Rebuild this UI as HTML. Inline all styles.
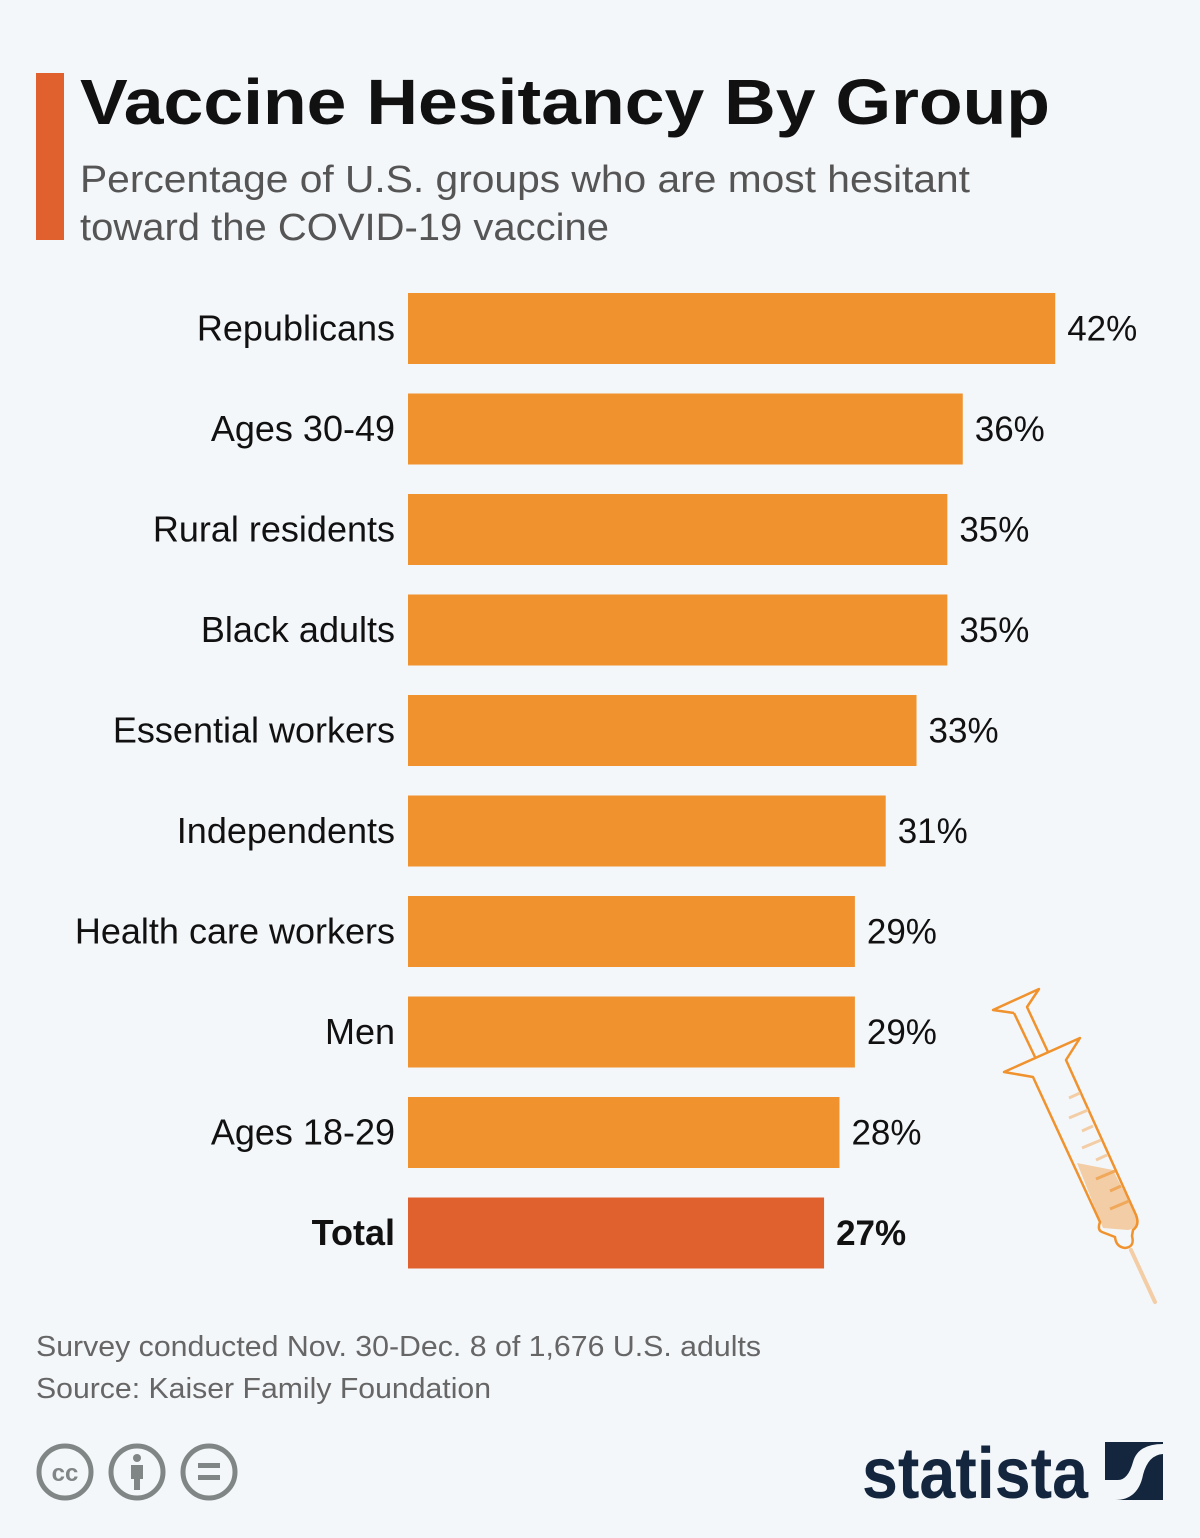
<!DOCTYPE html>
<html><head><meta charset="utf-8"><style>
body{margin:0;background:#f4f7fa;font-family:"Liberation Sans",sans-serif;}
#c{position:relative;width:1200px;height:1538px;overflow:hidden;background:#f4f7fa}
</style></head><body>
<div id="c">
<svg width="1200" height="1538" xmlns="http://www.w3.org/2000/svg" id="svg">
<rect x="36" y="73" width="28" height="167" fill="#e0612e"/>
<text x="80" y="124" font-size="64" font-weight="bold" fill="#111" textLength="970" lengthAdjust="spacingAndGlyphs">Vaccine Hesitancy By Group</text>
<text x="80" y="192" font-size="38" fill="#555" textLength="890" lengthAdjust="spacingAndGlyphs">Percentage of U.S. groups who are most hesitant</text>
<text x="80" y="240" font-size="38" fill="#555" textLength="529" lengthAdjust="spacingAndGlyphs">toward the COVID-19 vaccine</text>
<g id="bars"></g>
<g fill="none" stroke="#f0922d" stroke-width="2.5" stroke-linejoin="round">
<path d="M1077,1163 L1113,1170 L1136,1215 Q1140,1228 1128,1230 L1103,1228 Z" fill="#f3cda6" stroke="none"/>
<path d="M1014,1013 L993,1010 L1039,989 L1027,1007 L1048,1052"/>
<path d="M1014,1013 L1035,1057"/>
<path d="M1033,1077 L1004,1072 L1080,1038 L1066,1060 L1136,1215 Q1140,1225 1133,1230 L1132,1236 Q1135,1247 1125,1248 Q1116,1247 1115,1237 L1102,1232 Q1097,1230 1100,1222 Z"/>
<g stroke="#f3cda6" stroke-width="3">
<line x1="1069" y1="1098" x2="1080" y2="1093"/><line x1="1069" y1="1118" x2="1088" y2="1110"/>
<line x1="1082" y1="1131" x2="1093" y2="1126"/><line x1="1082" y1="1148" x2="1101" y2="1140"/>
<line x1="1096" y1="1160" x2="1107" y2="1155"/></g>
<g stroke="#f0a85a" stroke-width="3">
<line x1="1096" y1="1179" x2="1115" y2="1171"/><line x1="1110" y1="1191" x2="1121" y2="1186"/><line x1="1110" y1="1209" x2="1129" y2="1201"/></g>
<line x1="1131" y1="1250" x2="1155" y2="1302" stroke="#f3cda6" stroke-width="4" stroke-linecap="round"/>
</g>
<text x="36" y="1356" font-size="29" fill="#666" textLength="725" lengthAdjust="spacingAndGlyphs">Survey conducted Nov. 30-Dec. 8 of 1,676 U.S. adults</text>
<text x="36" y="1398" font-size="29" fill="#666" textLength="455" lengthAdjust="spacingAndGlyphs">Source: Kaiser Family Foundation</text>
<g stroke="#808585" stroke-width="5" fill="none">
<circle cx="65" cy="1472" r="26"/><circle cx="137" cy="1472" r="26"/><circle cx="209" cy="1472" r="26"/></g>
<text x="65" y="1481" font-size="24" font-weight="bold" fill="#808585" text-anchor="middle">cc</text>
<circle cx="137" cy="1458" r="4" fill="#808585"/>
<rect x="131" y="1465" width="12" height="14" fill="#808585"/><rect x="134" y="1478" width="6" height="12" fill="#808585"/>
<rect x="198" y="1463" width="22" height="5" fill="#808585"/><rect x="198" y="1475" width="22" height="5" fill="#808585"/>
<text x="862" y="1498" font-size="72" font-weight="bold" fill="#14263e" textLength="226" lengthAdjust="spacingAndGlyphs">statista</text>
<rect x="1105" y="1442" width="58" height="58" fill="#14263e"/>
<path d="M1105,1480 L1118,1480 Q1128,1480 1133,1462 Q1138,1444 1163,1444 L1163,1454 Q1148,1455 1143,1475 Q1138,1500 1115,1500 L1105,1500 Z" fill="#f4f7fa"/>
</svg>
</div>
<script>
const categories=["Republicans","Ages 30-49","Rural residents","Black adults","Essential workers","Independents","Health care workers","Men","Ages 18-29","Total"];
const values=[42,36,35,35,33,31,29,29,28,27];
const valueLabels=["42%","36%","35%","35%","33%","31%","29%","29%","28%","27%"];
const x0=408,pxPer=15.41,y0=293,step=100.5,bh=71;
const xs=v=>x0+v*pxPer, ys=i=>y0+i*step;
const g=document.getElementById('bars'),ns="http://www.w3.org/2000/svg";
categories.forEach((c,i)=>{
 const tot=c==="Total";
 const r=document.createElementNS(ns,'rect');
 r.setAttribute('x',x0);r.setAttribute('y',ys(i));r.setAttribute('width',xs(values[i])-x0);r.setAttribute('height',bh);
 r.setAttribute('fill',tot?'#e0612e':'#f0922d');
 
 
 g.appendChild(r);
 const t=document.createElementNS(ns,'text');
 t.setAttribute('x',395);t.setAttribute('y',ys(i)+bh/2+12);t.setAttribute('text-anchor','end');
 t.setAttribute('font-size',36);t.setAttribute('fill','#111');if(tot)t.setAttribute('font-weight','bold');
 t.textContent=c;
 
 
 g.appendChild(t);
 const v=document.createElementNS(ns,'text');
 v.setAttribute('x',xs(values[i])+12);v.setAttribute('y',ys(i)+bh/2+12);
 v.setAttribute('font-size',35);v.setAttribute('fill','#111');if(tot)v.setAttribute('font-weight','bold');
 v.textContent=valueLabels[i];
 
 
 g.appendChild(v);
});
</script>
</body></html>
